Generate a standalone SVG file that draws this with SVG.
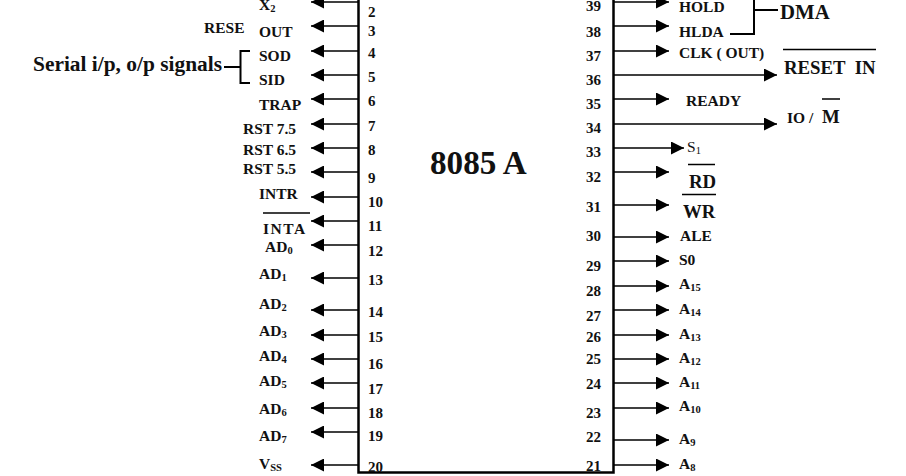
<svg xmlns="http://www.w3.org/2000/svg" width="906" height="476" viewBox="0 0 906 476">
<style>
text{font-family:"Liberation Serif","Times New Roman",serif;font-weight:700;fill:#111}
.n{font-size:15px}
.l{font-size:15.500px}
.s{font-size:10.500px}
.b{font-size:18.800px}
.c{stroke:#000;stroke-width:1.6;fill:none}
.k{stroke:#000;stroke-width:1.5;fill:none}
.w{stroke:#000;stroke-width:2;fill:none}
</style>
<defs>
<marker id="ah" markerUnits="userSpaceOnUse" markerWidth="13" markerHeight="13" refX="13" refY="6.5" orient="auto"><path d="M0 0L13 6.5L0 13Z" fill="#000"/></marker>
</defs>
<rect width="906" height="476" fill="#fff"/>
<g id="chip"><path d="M358.500 -2V472.500H613.500V-2" fill="none" stroke="#000" stroke-width="2.500"/><text x="430" y="174" style="font-size:33.200px">8085 A</text></g>
<g id="connectors" class="c" marker-end="url(#ah)">
<path d="M358 2H311"/><path d="M358 26H311"/><path d="M358 51H311"/><path d="M358 75H311"/><path d="M358 99H311"/><path d="M358 124H311"/><path d="M358 148H311"/><path d="M358 172H311"/><path d="M358 197H311"/><path d="M358 221H311"/><path d="M358 245H311"/><path d="M358 278H311"/><path d="M358 310H311"/><path d="M358 335H311"/><path d="M358 359H311"/><path d="M358 383H311"/><path d="M358 408H311"/><path d="M358 432H311"/><path d="M358 465H311"/>
<path d="M614 2H669"/><path d="M614 26H669"/><path d="M614 51H669"/><path d="M614 75H777"/><path d="M614 99H669"/><path d="M614 124H777"/><path d="M614 148H684"/><path d="M614 172H669"/><path d="M614 205H669"/><path d="M614 237H669"/><path d="M614 261H669"/><path d="M614 286H669"/><path d="M614 310H669"/><path d="M614 335H669"/><path d="M614 359H669"/><path d="M614 383H669"/><path d="M614 408H669"/><path d="M614 440H669"/><path d="M614 465H669"/>
</g>
<g id="serial-bracket"><path class="w" d="M224 67H240.500M250 51H240.500V83H250"/><text x="33" y="71" style="font-size:21.400px">Serial i/p, o/p signals</text></g>
<g id="dma-bracket"><path class="w" d="M730 34H754V-2M754 10H778"/><text x="780" y="19" style="font-size:20.800px">DMA</text></g>
<g id="pins-left">
<g id="pin2"><text class="n" x="368" y="17">2</text><text class="l" x="259" y="10">X<tspan class="s" dy="2">2</tspan></text></g>
<g id="pin3"><text class="n" x="368" y="36">3</text><text class="l" x="204" y="33">RESE</text><text class="l" x="259" y="37">OUT</text></g>
<g id="pin4"><text class="n" x="368" y="58">4</text><text class="l" x="259" y="61">SOD</text></g>
<g id="pin5"><text class="n" x="368" y="82">5</text><text class="l" x="259" y="85">SID</text></g>
<g id="pin6"><text class="n" x="368" y="106">6</text><text class="l" x="259" y="110">TRAP</text></g>
<g id="pin7"><text class="n" x="368" y="131">7</text><text class="l" x="243" y="134">RST 7.5</text></g>
<g id="pin8"><text class="n" x="368" y="155">8</text><text class="l" x="243" y="155">RST 6.5</text></g>
<g id="pin9"><text class="n" x="368" y="183">9</text><text class="l" x="243" y="174">RST 5.5</text></g>
<g id="pin10"><text class="n" x="368" y="207">10</text><text class="l" x="259" y="199">INTR</text></g>
<g id="pin11"><text class="n" x="368" y="231">11</text><text class="l" x="263" y="234" style="letter-spacing:1.500px">INTA</text><path class="k" d="M263 213H310"/></g>
<g id="pin12"><text class="n" x="368" y="256">12</text><text class="l" x="265" y="252">AD<tspan class="s" dy="2">0</tspan></text></g>
<g id="pin13"><text class="n" x="368" y="285">13</text><text class="l" x="259" y="279">AD<tspan class="s" dy="2">1</tspan></text></g>
<g id="pin14"><text class="n" x="368" y="317">14</text><text class="l" x="259" y="309">AD<tspan class="s" dy="2">2</tspan></text></g>
<g id="pin15"><text class="n" x="368" y="342">15</text><text class="l" x="259" y="336">AD<tspan class="s" dy="2">3</tspan></text></g>
<g id="pin16"><text class="n" x="368" y="369">16</text><text class="l" x="259" y="361">AD<tspan class="s" dy="2">4</tspan></text></g>
<g id="pin17"><text class="n" x="368" y="394">17</text><text class="l" x="259" y="386">AD<tspan class="s" dy="2">5</tspan></text></g>
<g id="pin18"><text class="n" x="368" y="418">18</text><text class="l" x="259" y="414">AD<tspan class="s" dy="2">6</tspan></text></g>
<g id="pin19"><text class="n" x="368" y="441">19</text><text class="l" x="259" y="441">AD<tspan class="s" dy="2">7</tspan></text></g>
<g id="pin20"><text class="n" x="368" y="472">20</text><text class="l" x="259" y="469">V<tspan class="s" dy="2">SS</tspan></text></g>
</g>
<g id="pins-right">
<g id="pin39"><text class="n" x="586" y="11">39</text><text class="l" x="679" y="12">HOLD</text></g>
<g id="pin38"><text class="n" x="586" y="37">38</text><text class="l" x="679" y="37">HLDA</text></g>
<g id="pin37"><text class="n" x="586" y="61">37</text><text class="l" x="679" y="58">CLK ( OUT)</text></g>
<g id="pin36"><text class="n" x="586" y="85">36</text><text class="b" x="784" y="74" xml:space="preserve">RESET  IN</text><path class="k" d="M783 49.500H876"/></g>
<g id="pin35"><text class="n" x="586" y="109">35</text><text class="l" x="686" y="106">READY</text></g>
<g id="pin34"><text class="n" x="586" y="133">34</text><text class="l" x="787" y="123">IO /</text><text class="b" x="822" y="123">M</text><path class="k" d="M822 99H840"/></g>
<g id="pin33"><text class="n" x="586" y="157">33</text><text class="l" x="687" y="152" style="font-weight:400">S<tspan class="s" dy="2">1</tspan></text></g>
<g id="pin32"><text class="n" x="586" y="182">32</text><text class="b" x="689" y="188">RD</text><path class="k" d="M688 164.500H715"/></g>
<g id="pin31"><text class="n" x="586" y="212">31</text><text class="b" x="683" y="218">WR</text><path class="k" d="M682 194.500H716"/></g>
<g id="pin30"><text class="n" x="586" y="241">30</text><text class="l" x="680" y="241">ALE</text></g>
<g id="pin29"><text class="n" x="586" y="271">29</text><text class="l" x="679" y="265">S0</text></g>
<g id="pin28"><text class="n" x="586" y="296">28</text><text class="l" x="679" y="289">A<tspan class="s" dy="2">15</tspan></text></g>
<g id="pin27"><text class="n" x="586" y="321">27</text><text class="l" x="679" y="314">A<tspan class="s" dy="2">14</tspan></text></g>
<g id="pin26"><text class="n" x="586" y="342">26</text><text class="l" x="679" y="339">A<tspan class="s" dy="2">13</tspan></text></g>
<g id="pin25"><text class="n" x="586" y="364">25</text><text class="l" x="679" y="363">A<tspan class="s" dy="2">12</tspan></text></g>
<g id="pin24"><text class="n" x="586" y="389">24</text><text class="l" x="679" y="387">A<tspan class="s" dy="2">11</tspan></text></g>
<g id="pin23"><text class="n" x="586" y="418">23</text><text class="l" x="679" y="411">A<tspan class="s" dy="2">10</tspan></text></g>
<g id="pin22"><text class="n" x="586" y="442">22</text><text class="l" x="679" y="444">A<tspan class="s" dy="2">9</tspan></text></g>
<g id="pin21"><text class="n" x="586" y="471">21</text><text class="l" x="679" y="469">A<tspan class="s" dy="2">8</tspan></text></g>
</g>
</svg>
